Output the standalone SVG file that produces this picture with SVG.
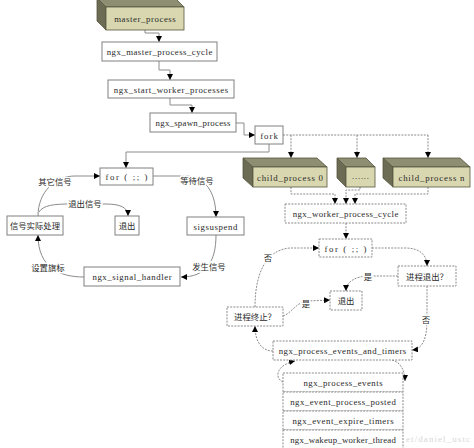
<svg xmlns="http://www.w3.org/2000/svg" width="474" height="448" viewBox="0 0 474 448">
<style>
.t{font-family:"Liberation Serif","Noto Sans CJK SC",serif;font-size:8.8px;fill:#2a2a2a;text-anchor:middle}
.c{font-family:"Noto Sans CJK SC","Liberation Serif",sans-serif;font-size:8.4px;fill:#2a2a2a;text-anchor:middle}
.lb{paint-order:stroke;stroke:#fff;stroke-width:3px}
.box{fill:#fff;stroke:#808080;stroke-width:1}
.dbox{fill:#fff;stroke:#8a8a8a;stroke-width:1;stroke-dasharray:2 1.2}
.ln{fill:none;stroke:#8c8c8c;stroke-width:1}
.dl{fill:none;stroke:#8c8c8c;stroke-width:1;stroke-dasharray:2 1.2}
.front{fill:#d9d7b0;stroke:#55553f;stroke-width:0.8}
.top{fill:#8e8e72;stroke:#55553f;stroke-width:0.8}
.side{fill:#6c6c54;stroke:#55553f;stroke-width:0.8}
</style>
<defs>
<marker id="ah" viewBox="0 0 10 10" refX="10" refY="5" markerWidth="6" markerHeight="6" orient="auto" markerUnits="userSpaceOnUse"><path d="M0,0 L10,5 L0,10 z" fill="#000"/></marker>
</defs>
<text x="406" y="442" font-family="Liberation Serif,serif" font-size="9" fill="#d8d8d8" textLength="64" lengthAdjust="spacing">et/daniel_ustc</text>
<g id="connectors">
<path class="ln" d="M145,30 V33 H159 V42" marker-end="url(#ah)"/>
<path class="ln" d="M159,61 V70 H170 V80" marker-end="url(#ah)"/>
<path class="ln" d="M170,98 V105 H192 V113" marker-end="url(#ah)"/>
<path class="ln" d="M236,123 H244 V135 H255" marker-end="url(#ah)"/>
<path class="ln" d="M269,144 V152 H126 V168" marker-end="url(#ah)"/>
<path class="ln" d="M153,176 H185 C205,176 216,192 216,217" marker-end="url(#ah)"/>
<path class="ln" d="M216,235 C216,262 206,277 181,277" marker-end="url(#ah)"/>
<path class="ln" d="M84,277 C60,277 38,268 38,235" marker-end="url(#ah)"/>
<path class="ln" d="M38,216 C38,192 55,176 75,176 L100,176" marker-end="url(#ah)"/>
<path class="ln" d="M39,212 C43,205 55,204 70,204 L105,204 C120,204 128,207 128,216" marker-end="url(#ah)"/>
<path class="dl" d="M283,135 H428"/>
<path class="dl" d="M291,135 V158" marker-end="url(#ah)"/>
<path class="dl" d="M357,135 V158" marker-end="url(#ah)"/>
<path class="dl" d="M428,135 V158" marker-end="url(#ah)"/>
<path class="dl" d="M291,187 V194 H335 V204" marker-end="url(#ah)"/>
<path class="dl" d="M360,187 V190 H346 V204" marker-end="url(#ah)"/>
<path class="dl" d="M428,187 V194 H355 V204" marker-end="url(#ah)"/>
<path class="dl" d="M346,223 V239" marker-end="url(#ah)"/>
<path class="dl" d="M372,248 H405 C420,248 427,255 427,266" marker-end="url(#ah)"/>
<path class="dl" d="M398,276 H370 C355,276 346,282 346,291" marker-end="url(#ah)"/>
<path class="dl" d="M427,286 V320 C427,340 422,349 412,350" marker-end="url(#ah)"/>
<path class="dl" d="M273,351 C262,351 255,342 255,326" marker-end="url(#ah)"/>
<path class="dl" d="M255,307 C255,275 265,250 290,248 L319,248" marker-end="url(#ah)"/>
<path class="dl" d="M283,316 C292,313 296,302 308,301 L330,300" marker-end="url(#ah)"/>
<path class="dl" d="M283,382 C274,378 276,365 295,361" marker-end="url(#ah)"/>
<path class="dl" d="M392,360 C400,362 405,370 405,381" marker-end="url(#ah)"/>
<text class="c lb" x="55" y="185">其它信号</text>
<text class="c lb" x="197" y="184">等待信号</text>
<text class="c lb" x="85" y="207">退出信号</text>
<text class="c lb" x="48" y="271">设置旗标</text>
<text class="c lb" x="209" y="270">发生信号</text>
<text class="c lb" x="368" y="280">是</text>
<text class="c lb" x="306" y="307">是</text>
<text class="c lb" x="426" y="323">否</text>
<text class="c lb" x="268" y="261">否</text>
</g>
<g id="master_process">
<polygon class="side" points="97,-2 106,7 106,30 97,21"/>
<polygon class="top" points="97,-2 175,-2 184,7 106,7"/>
<rect class="front" x="106" y="7" width="78" height="23"/>
<text class="t" x="145" y="22" textLength="61.6" lengthAdjust="spacing">master_process</text>
</g>
<g id="ngx_master_process_cycle">
<rect class="box" x="102" y="42" width="115" height="19"/>
<text class="t" x="159.5" y="55" textLength="105.6" lengthAdjust="spacing">ngx_master_process_cycle</text>
</g>
<g id="ngx_start_worker_processes">
<rect class="box" x="108" y="80" width="126" height="18"/>
<text class="t" x="171" y="92.5" textLength="114.4" lengthAdjust="spacing">ngx_start_worker_processes</text>
</g>
<g id="ngx_spawn_process">
<rect class="box" x="150" y="113" width="86" height="19"/>
<text class="t" x="193" y="126" textLength="74.8" lengthAdjust="spacing">ngx_spawn_process</text>
</g>
<g id="fork">
<rect class="box" x="255" y="126" width="28" height="18"/>
<text class="t" x="269" y="138.5" textLength="17.6" lengthAdjust="spacing">fork</text>
</g>
<g id="for_master">
<rect class="box" x="100" y="168" width="53" height="17"/>
<text class="t" x="126.5" y="180" textLength="42" lengthAdjust="spacing">for ( ;; )</text>
</g>
<g id="signal_process">
<rect class="box" x="7" y="216" width="56" height="19"/>
<text class="c" x="35" y="228.5">信号实际处理</text>
</g>
<g id="exit_master">
<rect class="box" x="115" y="216" width="24" height="19"/>
<text class="c" x="127" y="228.5">退出</text>
</g>
<g id="sigsuspend">
<rect class="box" x="187" y="217" width="57" height="18"/>
<text class="t" x="215.5" y="229.5" textLength="44" lengthAdjust="spacing">sigsuspend</text>
</g>
<g id="ngx_signal_handler">
<rect class="box" x="84" y="267" width="96" height="19"/>
<text class="t" x="132" y="280" textLength="79.2" lengthAdjust="spacing">ngx_signal_handler</text>
</g>
<g id="child_process_0">
<polygon class="side" points="243,158 253,167 253,187 243,178"/>
<polygon class="top" points="243,158 317,158 327,167 253,167"/>
<rect class="front" x="253" y="167" width="74" height="20"/>
<text class="t" x="290" y="180.5" textLength="66" lengthAdjust="spacing">child_process 0</text>
</g>
<g id="child_process_dots">
<polygon class="side" points="337,158 346,167 346,187 337,178"/>
<polygon class="top" points="337,158 366,158 375,167 346,167"/>
<rect class="front" x="346" y="167" width="29" height="20"/>
<text class="t" x="360.5" y="179" textLength="17" lengthAdjust="spacing">......</text>
</g>
<g id="child_process_n">
<polygon class="side" points="383,158 393,167 393,187 383,178"/>
<polygon class="top" points="383,158 460,158 470,167 393,167"/>
<rect class="front" x="393" y="167" width="77" height="20"/>
<text class="t" x="431.5" y="180.5" textLength="66" lengthAdjust="spacing">child_process n</text>
</g>
<g id="ngx_worker_process_cycle">
<rect class="dbox" x="285" y="204" width="121" height="19"/>
<text class="t" x="345.5" y="217" textLength="105.6" lengthAdjust="spacing">ngx_worker_process_cycle</text>
</g>
<g id="for_worker">
<rect class="dbox" x="319" y="239" width="53" height="18"/>
<text class="t" x="345.5" y="251.5" textLength="42" lengthAdjust="spacing">for ( ;; )</text>
</g>
<g id="process_exit_q">
<rect class="dbox" x="398" y="266" width="58" height="20"/>
<text class="c" x="427" y="279.5">进程退出？</text>
</g>
<g id="exit_worker">
<rect class="dbox" x="330" y="291" width="32" height="19"/>
<text class="c" x="346" y="304">退出</text>
</g>
<g id="process_terminate_q">
<rect class="dbox" x="227" y="307" width="56" height="19"/>
<text class="c" x="255" y="320">进程终止？</text>
</g>
<g id="ngx_process_events_and_timers">
<rect class="dbox" x="273" y="341" width="139" height="19"/>
<text class="t" x="342.5" y="354" textLength="127.6" lengthAdjust="spacing">ngx_process_events_and_timers</text>
</g>
<g id="event_stack">
<rect class="dbox" x="283" y="373" width="120" height="19"/>
<rect class="dbox" x="283" y="392" width="120" height="19"/>
<rect class="dbox" x="283" y="411" width="120" height="19"/>
<rect class="dbox" x="283" y="430" width="120" height="20"/>
<text class="t" x="343" y="386" textLength="79.2" lengthAdjust="spacing">ngx_process_events</text>
<text class="t" x="343" y="405" textLength="105.6" lengthAdjust="spacing">ngx_event_process_posted</text>
<text class="t" x="343" y="424" textLength="101.2" lengthAdjust="spacing">ngx_event_expire_timers</text>
<text class="t" x="343" y="443" textLength="105.6" lengthAdjust="spacing">ngx_wakeup_worker_thread</text>
</g>
</svg>
